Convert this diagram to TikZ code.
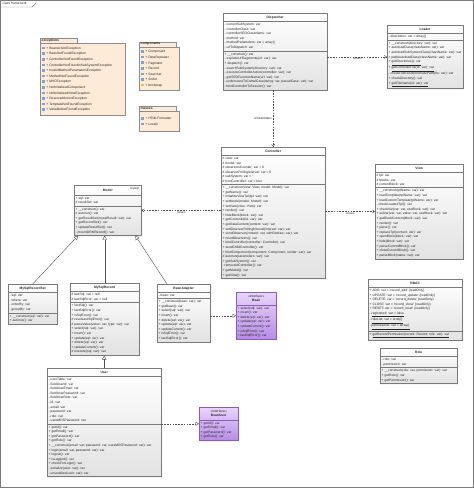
\documentclass[tikz,border=0pt]{standalone}
\usepackage{fontspec}
\setmainfont{Liberation Sans}
\usetikzlibrary{shapes.multipart,arrows.meta,shadows,calc}

\definecolor{pkgfill}{HTML}{FDEBD7}
\definecolor{pkgline}{HTML}{8C8C8C}
\definecolor{clsline}{HTML}{7A7A7A}
\definecolor{clsshade}{HTML}{E2E2E2}
\definecolor{ifctop}{HTML}{EAD5FB}
\definecolor{ifcbot}{HTML}{B68CE6}
\definecolor{ifcline}{HTML}{8A5BB8}
\definecolor{iconblue}{HTML}{7FA3D3}
\definecolor{iconyellow}{HTML}{EDBE52}
\definecolor{linkgray}{HTML}{505050}

\begin{document}
\begin{tikzpicture}
[x=1pt, y=-1pt,
every node/.style={inner sep=0pt, text=black!85},
cls/.style={rectangle split, rectangle split parts=3, rectangle split part align={center,left,left}, draw=clsline, line width=0.4pt, top color=white, bottom color=clsshade, inner xsep=1.5pt, inner ysep=1.6pt, align=left, anchor=north west, font=\fontsize{3.3}{4.6}\selectfont, drop shadow={shadow xshift=0.8pt, shadow yshift=-0.8pt, opacity=0.25}},
ifc/.style={cls, rectangle split parts=2, rectangle split part align={center,left}, draw=ifcline, top color=ifctop, bottom color=ifcbot},
pkgtab/.style={draw=pkgline, fill=pkgfill, line width=0.4pt, anchor=north west, inner xsep=1.5pt, minimum height=5pt, font=\fontsize{3.3}{4}\selectfont\bfseries},
pkgbody/.style={draw=pkgline, fill=pkgfill, line width=0.4pt, anchor=north west, align=left, inner xsep=2pt, inner ysep=3.5pt, font=\fontsize{3.3}{5.6}\selectfont},
dep/.style={draw=linkgray, line width=0.4pt, dash pattern=on 1.6pt off 1.2pt, -{Straight Barb[length=2.5pt,width=3.2pt]}},
real/.style={draw=linkgray, line width=0.4pt, dash pattern=on 1.6pt off 1.2pt, -{Triangle[open,length=3.5pt,width=4pt]}},
gen/.style={draw=linkgray, line width=0.4pt, -{Triangle[open,length=4pt,width=4.5pt]}},
lbl/.style={font=\fontsize{3.2}{3.6}\selectfont, inner sep=1pt}]
\useasboundingbox (0,0) rectangle (474,488);

% frame
\draw[draw=clsline, line width=0.4pt] (0.5,0.5) rectangle (473.5,487.5);
\draw[draw=clsline, line width=0.4pt] (0.5,7) -- (32,7) -- (36,3) -- (36,0.5);
\node[anchor=west, font=\fontsize{3.3}{4}\selectfont] (frm) at (2.5,3.8) {class framework};

% packages
\node[pkgtab, text width=34pt] (exctab) at (40,38) {exceptions};
\node[pkgbody, text width=80.6pt] (exc) at (40,43) {%
\textcolor{iconblue}{\rule{2.6pt}{2.6pt}}\hspace{1.5pt}+ BeanActionException\\
\textcolor{iconblue}{\rule{2.6pt}{2.6pt}}\hspace{1.5pt}+ BeanNotFoundException\\
\textcolor{iconblue}{\rule{2.6pt}{2.6pt}}\hspace{1.5pt}+ ControllerNotFoundException\\
\textcolor{iconblue}{\rule{2.6pt}{2.6pt}}\hspace{1.5pt}+ ControllerNotFoundInSubSystemException\\
\textcolor{iconblue}{\rule{2.6pt}{2.6pt}}\hspace{1.5pt}+ InvalidMethodParametersException\\
\textcolor{iconblue}{\rule{2.6pt}{2.6pt}}\hspace{1.5pt}+ MethodNotFoundException\\
\textcolor{iconblue}{\rule{2.6pt}{2.6pt}}\hspace{1.5pt}+ MVCException\\
\textcolor{iconblue}{\rule{2.6pt}{2.6pt}}\hspace{1.5pt}+ NotInitializedComponent\\
\textcolor{iconblue}{\rule{2.6pt}{2.6pt}}\hspace{1.5pt}+ NotInitializedViewException\\
\textcolor{iconblue}{\rule{2.6pt}{2.6pt}}\hspace{1.5pt}+ ReservedActionException\\
\textcolor{iconblue}{\rule{2.6pt}{2.6pt}}\hspace{1.5pt}+ TemplateNotFoundException\\
\textcolor{iconblue}{\rule{2.6pt}{2.6pt}}\hspace{1.5pt}+ VariableNotFoundException};

\node[pkgtab, text width=34pt] (comptab) at (139,41.5) {components};
\node[pkgbody, text width=35.6pt] (comp) at (139,46.5) {%
\textcolor{iconblue}{\rule{2.6pt}{2.6pt}}\hspace{1.5pt}+ Component\\
\textcolor{iconblue}{\rule{2.6pt}{2.6pt}}\hspace{1.5pt}+ DataRepeater\\
\textcolor{iconblue}{\rule{2.6pt}{2.6pt}}\hspace{1.5pt}+ Paginator\\
\textcolor{iconblue}{\rule{2.6pt}{2.6pt}}\hspace{1.5pt}+ Record\\
\textcolor{iconblue}{\rule{2.6pt}{2.6pt}}\hspace{1.5pt}+ Searcher\\
\textcolor{iconblue}{\rule{2.6pt}{2.6pt}}\hspace{1.5pt}+ Sorter\\
\textcolor{iconyellow}{\rule{2.6pt}{2.6pt}}\hspace{1.5pt}+ bootstrap};

\node[pkgtab, text width=34pt] (clstab) at (139,106) {classes};
\node[pkgbody, text width=35.6pt, minimum height=20pt] (clss) at (139,111) {%
\textcolor{iconblue}{\rule{2.6pt}{2.6pt}}\hspace{1.5pt}+ HTMLFormatter\\
\textcolor{iconblue}{\rule{2.6pt}{2.6pt}}\hspace{1.5pt}+ Locale};

% classes
\node[cls, minimum width=104pt] (disp) at (223,13) {\rule[-1.2pt]{0pt}{4.6pt}\textbf{Dispatcher}
\nodepart{two}- currentSubSystem: var\\
- controllerClass: var\\
- controllerSEOClassName: var\\
- method: var\\
- methodParameters: var = array()\\
- urlToDispatch: var
\nodepart{three}+ \_\_construct(): var\\
- explodeUrlSegments(url: var): var\\
+ dispatch(): var\\
- searchSubSystem(directory: var): var\\
- executeControllerAction(controller: var): var\\
- getSEOFunctionName(url: var): var\\
- underscoreToCamelCase(string: var, pascalCase: var): var\\
- bindControllerToSession(): var};

\node[cls, minimum width=73pt] (loader) at (387,25) {\rule[-1.2pt]{0pt}{4.6pt}\textbf{Loader}
\nodepart{two}- directories: var = array()
\nodepart{three}+ \_\_construct(directory: var): var\\
+ autoloadClass(className: var): var\\
+ autoloadSubSystemClass(className: var): var\\
+ pathAutoloadClass(className: var): var\\
+ \underline{getDirectories(): var}\\
+ \underline{getControllerFile(id: var): var}\\
- checkFileExistsInIncludePath(file: var): var\\
+ checkDirectory(): var\\
+ \underline{getFileName(id: var): var}};

\node[cls, minimum width=104pt] (ctrl) at (221,147) {\rule[-1.2pt]{0pt}{4.6pt}\textbf{Controller}
\nodepart{two}\# view: var\\
\# model: var\\
\# observersCounter: var = 0\\
\# observerPollingInterval: var = 0\\
\# subSystem: var = ''\\
\# hostController: var = true
\nodepart{three}+ \_\_construct(view: View, model: Model): var\\
+ getName(): var\\
+ initializeViewTpl(tpl: var): var\\
+ setModel(model: Model): var\\
+ setView(view: View): var\\
+ render(): var\\
+ hideBlock(block: var): var\\
+ getContentId(id: var): var\\
+ getDataContent(content: var): var\\
+ setObserverPollingInterval(interval: var): var\\
+ sendObserver(content: var, withRedraw: var): var\\
+ resetObservers(): var\\
+ bindController(controller: Controller): var\\
+ sendChildController(): var\\
+ bindComponent(component: Component, render: var): var\\
\# autorun(parameters: var): var\\
+ getSubSystem(): var\\
- removeIdController(): var\\
+ getModel(): var\\
+ getView(): var};

\node[cls, minimum width=88pt] (view) at (375,164) {\rule[-1.2pt]{0pt}{4.6pt}\textbf{View}
\nodepart{two}\# tpl: var\\
\# blocks: var\\
\# currentBlock: var
\nodepart{three}+ \_\_construct(tplName: var): var\\
+ loadTemplate(tplName: var): var\\
+ loadCustomTemplate(tplName: var): var\\
- checkLoadedTpl(): var\\
+ checkVar(var: var, useBlock: var): var\\
+ setVar(var: var, value: var, useBlock: var): var\\
+ getBlockContent(block: var): var\\
+ render(): var\\
+ parse(): var\\
+ replaceTpl(content: var): var\\
+ openBlock(block: var): var\\
+ hide(block: var): var\\
+ parseCurrentBlock(): var\\
+ closeCurrentBlock(): var\\
+ parseBlock(name: var): var};

\node[cls, minimum width=67pt] (model) at (74,185) {\rule[-2.4pt]{0pt}{6.4pt}\textbf{Model}
\nodepart{two}+ sql: var\\
\# resultSet: var
\nodepart{three}+ \_\_construct(): var\\
\# autorun(): var\\
+ getResultSet(mysqlResult: var): var\\
+ getRecordSet(): var\\
+ updateResultSet(): var\\
- mountORMRecord(): var};
\node[lbl, anchor=north east] (mdltag) at (140,185.5) {mysql};

\node[cls, minimum width=49pt] (mrs) at (8,284) {\rule[-1.2pt]{0pt}{4.6pt}\textbf{MySqlRecordSet}
\nodepart{two}- sql: var\\
- where: var\\
- orderBy: var\\
- groupBy: var
\nodepart{three}+ \_\_construct(sql: var): var\\
+ autorun(): var};

\node[cls, minimum width=69pt] (mr) at (70,283) {\rule[-1.2pt]{0pt}{4.6pt}\textbf{MySqlRecord}
\nodepart{two}\# lastSql: var = null\\
\# lastSqlError: var = null
\nodepart{three}+ lastSql(): var\\
+ lastSqlError(): var\\
+ isSqlError(): var\\
\# resetLastSqlError(): var\\
\# parseValue(value: var, type: var): var\\
+ select(sql: var): var\\
+ insert(): var\\
+ update(sql: var): var\\
+ delete(sql: var): var\\
+ updateCurrent(): var\\
\# execute(sql: var): var};

\node[cls, minimum width=53pt] (ba) at (157,284) {\rule[-1.2pt]{0pt}{4.6pt}\textbf{BeanAdapter}
\nodepart{two}- bean: var
\nodepart{three}+ \_\_construct(bean: var): var\\
+ getBean(): var\\
+ select(sql: var): var\\
+ insert(): var\\
+ delete(sql: var): var\\
+ update(sql: var): var\\
+ updateCurrent(): var\\
+ isSqlError(): var\\
+ lastSqlError(): var};

\node[ifc, minimum width=40pt] (bean) at (236,292) {\begin{tabular}{@{}c@{}}«interface»\\ \textbf{Bean}\end{tabular}
\nodepart{two}+ select(sql: var): var\\
+ insert(): var\\
+ delete(sql: var): var\\
+ update(sql: var): var\\
+ updateCurrent(): var\\
+ isSqlError(): var\\
+ lastSqlError(): var};

\node[cls, minimum width=94pt] (rbac) at (368,279) {\rule[-1.2pt]{0pt}{4.6pt}\textbf{RBAC}
\nodepart{two}+ ADD: var = 'record\_add' \{readOnly\}\\
+ UPDATE: var = 'record\_update' \{readOnly\}\\
+ DELETE: var = 'record\_delete' \{readOnly\}\\
+ CLOSE: var = 'record\_close' \{readOnly\}\\
+ RESET: var = 'record\_reset' \{readOnly\}\\
- \underline{registered: var = false}\\
- \underline{roleList: var = array()}\\
- \underline{permissions: var = array()}
\nodepart{three}+ \underline{getRecordPermission(record: Record, role: var): var}};

\node[cls, minimum width=77pt] (role) at (380,348) {\rule[-1.2pt]{0pt}{4.6pt}\textbf{Role}
\nodepart{two}- role: var\\
- permission: var
\nodepart{three}+ \_\_construct(role: var, permission: var): var\\
+ getRole(): var\\
+ getPermission(): var};

\node[cls, minimum width=114pt] (user) at (47,368) {\rule[-1.2pt]{0pt}{4.6pt}\textbf{User}
\nodepart{two}- userTable: var\\
- fieldUserId: var\\
- fieldUserEmail: var\\
- fieldUserPassword: var\\
- fieldUserRole: var\\
- id: var\\
- email: var\\
- password: var\\
- role: var\\
- usesMD5Password: var
\nodepart{three}+ getId(): var\\
+ getEmail(): var\\
+ getPassword(): var\\
+ getRole(): var\\
+ \_\_construct(email: var, password: var, usesMD5Password: var): var\\
+ login(email: var, password: var): var\\
+ logout(): var\\
+ isLogged(): var\\
+ checkForLogin(): var\\
- serialize(user: var): var\\
- unserialize(user: var): var};

\node[ifc, minimum width=39pt] (buser) at (199,407) {\begin{tabular}{@{}c@{}}«interface»\\ \textbf{BeanUser}\end{tabular}
\nodepart{two}+ getId(): var\\
+ getEmail(): var\\
+ getPassword(): var\\
+ getRole(): var};

% connectors
\draw[dep] (disp.east |- loader.west) -- (loader.west) node[lbl, midway, below] (use1) {«use»};
\draw[dep] (disp.south -| ctrl.north) -- (ctrl.north) node[lbl, midway, left] (inst) {«instantiate»};
\draw[dep] (ctrl.west |- model.east) -- (model.east) node[lbl, midway, below] (use2) {«use»};
\draw[dep] (ctrl.east |- view.west) -- (view.west) node[lbl, midway, below] (use3) {«use»};
\draw[gen] (mrs.north) -- ($(model.south west)+(4,0)$);
\draw[gen] (mr.north) -- (mr.north |- model.south);
\draw[gen] ($(ba.north west)+(10,0)$) -- ($(model.south east)+(-6,0)$);
\draw[gen] (user.north) -- (user.north |- mr.south);
\draw[real] (ba.east |- bean.west) -- (bean.west);
\draw[real] (user.east |- buser.west) -- (buser.west);
\end{tikzpicture}
\end{document}
